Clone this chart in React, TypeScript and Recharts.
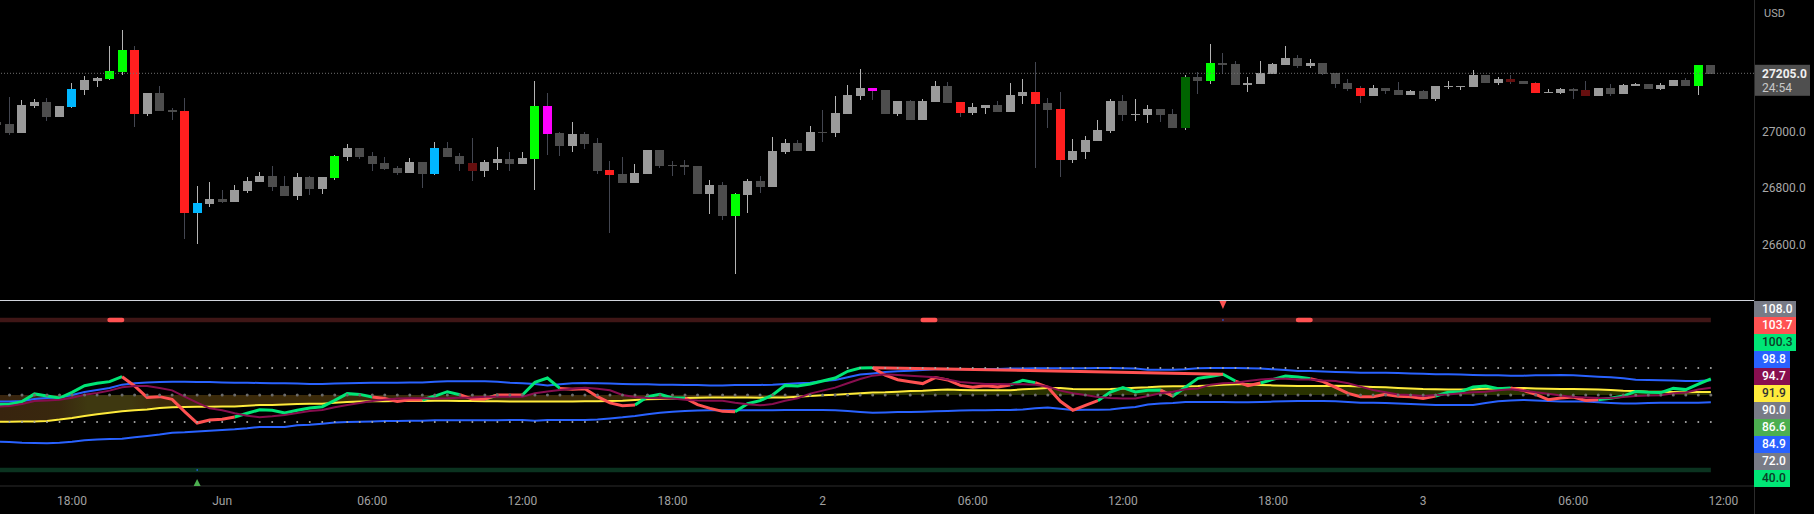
import React from "react";
import {
  ComposedChart,
  Bar,
  Line,
  Area,
  XAxis,
  YAxis,
  ReferenceLine,
} from "recharts";

// 30 minute bars, first entry is the bar cut off by the left edge (index -1)
const candleKinds =
  "DDLLDLBLLGGRLDDRBLDLLLDDLDLGLDDDDLDBDDrLLDLGMDLDDRDLLDDDDLDGLDLLDLDLLLMDLDLLDRLLDLLRDRLLLLDLLDDgDGDDLLLLDLDDDRLDDLDLLLLDLrDRLLDrLDLLDLLDGD".split("");

const opens = [
  27033,
  27026, 26994, 27089, 27104, 27051, 27086, 27146, 27178, 27185, 27210,
  27287, 27061, 27135, 27075, 27072, 26711, 26743, 26761, 26750, 26789,
  26821, 26842, 26807, 26771, 26838, 26796, 26835, 26909, 26941, 26913,
  26888, 26870, 26853, 26891, 26849, 26941, 26913, 26888, 26860, 26888,
  26902, 26884, 26902, 27089, 26994, 26948, 26990, 26959, 26863, 26849,
  26817, 26849, 26934, 26881, 26881, 26877, 26778, 26810, 26701, 26775,
  26824, 26803, 26927, 26959, 26930, 26998, 26994, 27061, 27125, 27153,
  27146, 27061, 27107, 27040, 27104, 27160, 27104, 27065, 27082, 27093,
  27068, 27125, 27139, 27100, 27079, 26899, 26927, 26966, 27001, 27107,
  27058, 27058, 27079, 27061, 27012, 27192, 27178, 27241, 27238, 27164,
  27167, 27202, 27234, 27259, 27231, 27241, 27206, 27171, 27153, 27125,
  27153, 27146, 27128, 27142, 27114, 27157, 27157, 27157, 27199, 27171,
  27185, 27178, 27171, 27135, 27135, 27150, 27146, 27125, 27153, 27132,
  27160, 27167, 27150, 27160, 27181, 27160, 27234,
];

const closes = [
  27023,
  26994, 27093, 27104, 27051, 27089, 27150, 27181, 27188, 27213, 27287,
  27061, 27135, 27072, 27068, 26711, 26747, 26761, 26750, 26793, 26824,
  26842, 26803, 26771, 26838, 26796, 26838, 26913, 26941, 26909, 26884,
  26867, 26853, 26891, 26849, 26941, 26909, 26884, 26860, 26891, 26902,
  26884, 26906, 27089, 26990, 26948, 26990, 26955, 26860, 26846, 26817,
  26853, 26934, 26877, 26877, 26874, 26778, 26810, 26701, 26778, 26824,
  26803, 26930, 26959, 26930, 26998, 26994, 27065, 27128, 27153, 27142,
  27061, 27107, 27040, 27107, 27160, 27100, 27065, 27086, 27093, 27068,
  27128, 27139, 27096, 27075, 26899, 26930, 26969, 27005, 27107, 27058,
  27061, 27079, 27058, 27012, 27192, 27178, 27241, 27234, 27164, 27171,
  27206, 27238, 27259, 27231, 27241, 27202, 27167, 27150, 27125, 27153,
  27142, 27128, 27142, 27114, 27160, 27160, 27160, 27199, 27171, 27185,
  27174, 27167, 27135, 27139, 27150, 27142, 27125, 27153, 27132, 27164,
  27167, 27150, 27164, 27181, 27160, 27234, 27202,
];

const highs = [
  27033,
  27121, 27111, 27114, 27118, 27089, 27171, 27195, 27192, 27301, 27358,
  27301, 27135, 27160, 27082, 27118, 26807, 26821, 26793, 26810, 26838,
  26856, 26877, 26842, 26853, 26842, 26838, 26916, 26955, 26941, 26927,
  26909, 26877, 26906, 26891, 26962, 26962, 26923, 26976, 26899, 26945,
  26927, 26927, 27178, 27135, 26998, 27033, 26998, 26976, 26895, 26909,
  26884, 26934, 26934, 26895, 26899, 26877, 26828, 26821, 26782, 26831,
  26842, 26980, 26973, 26969, 27019, 27075, 27125, 27164, 27220, 27153,
  27146, 27107, 27111, 27114, 27178, 27174, 27104, 27100, 27093, 27107,
  27171, 27185, 27245, 27118, 27139, 26973, 26983, 27040, 27114, 27128,
  27114, 27093, 27079, 27079, 27199, 27210, 27308, 27277, 27248, 27192,
  27248, 27241, 27301, 27270, 27255, 27241, 27206, 27185, 27160, 27164,
  27153, 27174, 27146, 27146, 27160, 27178, 27160, 27217, 27199, 27192,
  27199, 27178, 27174, 27150, 27153, 27153, 27178, 27153, 27167, 27167,
  27171, 27167, 27171, 27181, 27188, 27234, 27234,
];

const lows = [
  27023,
  26987, 26994, 27082, 27036, 27051, 27082, 27128, 27157, 27181, 27199,
  27015, 27054, 27072, 27040, 26619, 26602, 26732, 26747, 26750, 26782,
  26821, 26789, 26771, 26757, 26775, 26778, 26828, 26895, 26902, 26860,
  26863, 26846, 26853, 26800, 26846, 26909, 26860, 26824, 26838, 26863,
  26860, 26884, 26793, 26916, 26913, 26927, 26937, 26849, 26641, 26817,
  26817, 26849, 26870, 26842, 26846, 26778, 26708, 26686, 26496, 26711,
  26782, 26803, 26920, 26930, 26930, 26962, 26980, 27061, 27111, 27111,
  27061, 27054, 27040, 27040, 27104, 27100, 27051, 27058, 27061, 27068,
  27068, 27096, 26870, 27012, 26838, 26888, 26902, 26966, 26994, 27036,
  27036, 27029, 27033, 27012, 27005, 27132, 27167, 27202, 27164, 27139,
  27167, 27202, 27234, 27224, 27224, 27199, 27153, 27142, 27100, 27125,
  27132, 27128, 27128, 27114, 27107, 27150, 27146, 27157, 27171, 27164,
  27167, 27167, 27135, 27135, 27132, 27114, 27125, 27125, 27125, 27132,
  27160, 27150, 27146, 27160, 27160, 27128, 27202,
];

// indicator pane
const fast = [
  83.6,
  83.8, 85.6, 90.7, 89.3, 88.0, 91.8, 96.2, 97.8, 98.9, 102.2,
  96.0, 88.4, 88.9, 87.1, 78.9, 71.3, 73.3, 73.8, 75.3, 77.8,
  80.2, 79.8, 78.0, 79.8, 81.3, 82.2, 86.4, 90.9, 90.4, 88.7,
  87.6, 85.6, 86.9, 86.7, 89.3, 92.2, 90.2, 87.3, 87.3, 90.0,
  90.0, 90.0, 98.4, 101.3, 94.4, 93.8, 94.2, 88.9, 84.7, 82.9,
  83.3, 88.9, 90.4, 88.0, 88.0, 83.6, 81.1, 79.1, 78.9, 84.2,
  86.2, 90.0, 96.4, 96.0, 97.3, 99.3, 101.3, 105.8, 108.0, 108.2,
  103.3, 100.2, 98.9, 97.6, 101.6, 100.0, 96.4, 95.1, 96.2, 95.3,
  96.7, 99.8, 98.2, 95.1, 85.8, 79.8, 83.1, 86.2, 92.0, 94.9,
  92.0, 93.1, 93.3, 89.3, 95.1, 101.1, 102.4, 103.8, 99.3, 96.2,
  98.0, 100.4, 102.7, 102.0, 100.9, 98.9, 95.1, 91.1, 88.9, 88.9,
  90.4, 89.1, 88.9, 87.6, 89.3, 91.8, 92.2, 95.3, 96.0, 94.2,
  94.7, 93.1, 90.4, 86.9, 88.0, 88.7, 86.4, 86.9, 87.8, 89.3,
  92.4, 91.8, 91.6, 94.4, 93.6, 97.3, 100.7,
];

const signal = [
  82.2,
  82.7, 84.0, 86.0, 86.4, 86.9, 88.2, 90.2, 91.3, 92.9, 95.1,
  96.0, 96.0, 94.7, 93.1, 88.9, 84.9, 81.1, 79.8, 77.8, 76.2,
  75.1, 75.8, 76.7, 78.0, 79.3, 80.0, 81.8, 83.3, 84.7, 86.0,
  86.9, 87.6, 87.8, 87.8, 87.6, 87.8, 88.2, 88.4, 88.9, 88.9,
  88.9, 88.9, 91.1, 92.4, 93.3, 94.2, 94.9, 94.2, 93.1, 90.0,
  88.7, 88.0, 87.8, 87.6, 86.9, 86.4, 86.2, 86.2, 84.9, 83.8,
  83.1, 84.0, 86.2, 87.8, 90.9, 92.9, 94.9, 97.8, 100.7, 102.9,
  103.8, 103.3, 102.9, 102.4, 101.8, 100.4, 98.7, 98.0, 97.3, 97.3,
  97.1, 97.1, 96.9, 95.6, 92.9, 91.1, 90.0, 88.7, 88.0, 87.6,
  87.6, 89.3, 91.1, 92.2, 93.8, 94.4, 96.9, 97.8, 98.2, 99.3,
  100.4, 100.9, 100.9, 100.4, 100.4, 99.6, 99.3, 97.8, 95.6, 93.3,
  91.8, 90.4, 90.0, 89.3, 90.0, 90.4, 91.1, 91.8, 92.2, 93.1,
  93.8, 92.9, 91.8, 90.9, 89.6, 88.7, 88.4, 88.0, 87.8, 88.7,
  89.3, 89.6, 89.8, 91.1, 91.6, 93.6, 94.9,
];

const baseline = [
  72.2,
  72.2, 72.4, 72.4, 72.7, 73.6, 74.7, 76.0, 77.1, 78.2, 79.1,
  79.8, 80.4, 81.3, 81.8, 82.0, 82.2, 82.2, 82.4, 82.4, 82.9,
  83.3, 83.3, 83.6, 84.0, 84.2, 84.2, 84.9, 85.3, 85.6, 85.8,
  85.8, 86.0, 86.0, 86.0, 86.2, 86.2, 86.0, 86.0, 85.8, 85.8,
  85.6, 85.6, 85.6, 85.6, 85.6, 85.6, 85.8, 85.8, 86.0, 86.2,
  86.7, 87.1, 87.3, 87.6, 88.0, 88.2, 88.4, 88.4, 88.4, 88.4,
  88.2, 88.4, 88.4, 88.9, 89.3, 89.8, 90.2, 90.7, 91.1, 91.6,
  91.8, 92.2, 92.7, 92.9, 93.3, 93.6, 93.3, 93.1, 93.1, 93.1,
  93.1, 93.8, 94.2, 94.7, 94.7, 94.0, 93.8, 93.8, 94.0, 94.4,
  94.9, 95.1, 95.6, 95.8, 95.8, 96.0, 96.4, 96.9, 97.1, 97.1,
  96.7, 96.4, 96.2, 96.0, 96.0, 96.0, 96.2, 96.0, 95.6, 95.3,
  95.1, 94.7, 94.4, 94.0, 93.8, 93.6, 93.6, 93.8, 94.2, 94.4,
  94.7, 94.7, 94.4, 94.2, 94.0, 94.0, 93.8, 93.6, 93.3, 92.9,
  92.7, 92.2, 92.2, 92.0, 91.8, 92.0, 92.0,
];

const upperBand = [
  85.6,
  85.6, 86.0, 87.3, 88.0, 88.4, 90.0, 92.0, 93.3, 94.7, 96.9,
  97.8, 98.4, 98.7, 98.9, 98.9, 98.7, 98.7, 98.4, 98.2, 98.2,
  98.0, 97.8, 97.8, 97.6, 97.3, 97.3, 97.6, 97.8, 98.0, 98.2,
  98.2, 98.2, 98.4, 98.4, 98.9, 99.1, 99.1, 99.1, 99.1, 98.9,
  98.2, 97.8, 97.3, 96.4, 97.1, 97.8, 98.0, 97.8, 97.6, 97.3,
  97.1, 97.1, 96.9, 96.9, 96.7, 96.7, 96.4, 96.4, 96.7, 96.7,
  96.7, 96.9, 97.3, 97.8, 98.2, 99.3, 100.0, 101.8, 103.6, 104.4,
  105.3, 105.8, 106.2, 106.7, 107.1, 107.1, 107.1, 107.1, 107.3, 107.3,
  107.6, 107.6, 107.8, 107.8, 107.8, 107.8, 107.8, 108.0, 108.0, 107.8,
  107.6, 106.9, 106.9, 106.9, 107.1, 107.8, 108.0, 108.0, 108.0, 107.8,
  107.6, 107.1, 106.7, 106.0, 106.0, 105.6, 105.3, 105.1, 104.9, 104.9,
  104.9, 104.7, 104.4, 104.2, 103.8, 103.8, 103.6, 103.3, 103.1, 103.1,
  102.9, 102.9, 103.1, 103.1, 103.3, 103.1, 102.7, 102.2, 101.8, 101.1,
  100.2, 100.0, 99.8, 99.6, 99.3, 99.3, 99.8,
];

const lowerBand = [
  58.9,
  58.7, 58.2, 58.0, 57.8, 58.2, 58.9, 59.8, 60.4, 60.7, 60.9,
  61.8, 62.7, 63.6, 64.9, 65.1, 65.6, 66.2, 66.7, 67.1, 67.8,
  68.7, 68.7, 68.7, 69.8, 70.2, 70.9, 71.6, 72.0, 72.2, 72.4,
  72.7, 72.7, 72.9, 72.9, 73.1, 73.1, 73.1, 73.1, 73.1, 73.1,
  73.3, 73.3, 72.9, 73.3, 73.3, 73.3, 73.3, 73.6, 74.4, 75.1,
  76.0, 77.1, 78.2, 78.9, 79.3, 79.6, 79.8, 79.8, 79.8, 79.8,
  79.8, 79.8, 80.0, 80.0, 80.0, 80.0, 79.8, 79.3, 78.7, 78.2,
  78.4, 78.7, 78.7, 78.9, 79.1, 79.3, 79.6, 79.8, 79.8, 80.0,
  80.0, 80.4, 81.1, 81.6, 80.9, 80.0, 80.2, 80.2, 80.4, 81.3,
  82.0, 83.6, 84.4, 84.7, 85.3, 85.3, 85.3, 85.3, 85.1, 85.1,
  85.3, 85.6, 85.8, 86.0, 86.0, 86.0, 85.8, 85.3, 84.9, 84.9,
  84.7, 84.4, 84.0, 83.6, 83.3, 83.3, 83.3, 83.3, 84.7, 85.8,
  86.4, 86.7, 86.4, 86.0, 85.6, 85.6, 85.6, 85.1, 84.7, 84.4,
  84.4, 84.7, 84.9, 84.9, 84.9, 84.9, 85.1,
];

const greenSpans = [[-1, 9], [18, 29], [33, 36], [38, 39], [41, 44], [50, 54], [58, 69], [80, 82], [87, 92], [93, 98], [100, 104], [114, 120], [127, 136]];
const redSpans = [[9, 18], [29, 33], [36, 38], [39, 41], [44, 50], [54, 58], [69, 80], [82, 87], [92, 93], [98, 100], [104, 114], [120, 127]];
const trailBars = [69, 97];
const trailValues = [108.2, 103.9];
const alertSpans = [[8, 9], [73, 74], [103, 104]];
const sellBar = 97;
const buyBar = 15;

const levelHigh = 108;
const levelMid = 90;
const levelLow = 72;
const ceiling = 140;
const floor = 40;

const lastPrice = 27205;
const countdown = "24:54";
const priceTicks = [27205, 27000, 26800, 26600];
const timeTicks = [5, 17, 29, 41, 53, 65, 77, 89, 101, 113, 125, 137];
const timeLabels = ["18:00", "Jun", "06:00", "12:00", "18:00", "2", "06:00", "12:00", "18:00", "3", "06:00", "12:00"];
const tagLabels = ["108.0", "103.7", "100.3", "98.8", "94.7", "91.9", "90.0", "86.6", "84.9", "72.0", "40.0"];

const inSpans = (spans: number[][], i: number) => spans.some(([a, b]) => i >= a && i <= b);

const data = opens.map((open, n) => {
  const i = n - 1;
  const base = baseline[n];
  return {
    i,
    kind: candleKinds[n],
    open,
    close: closes[n],
    high: highs[n],
    low: lows[n],
    baseline: base,
    signal: signal[n],
    upperBand: upperBand[n],
    lowerBand: lowerBand[n],
    fastGreen: inSpans(greenSpans, i) ? fast[n] : null,
    fastRed: inSpans(redSpans, i) ? fast[n] : null,
    trail: trailBars.includes(i) ? trailValues[trailBars.indexOf(i)] : null,
    below: base < levelMid ? [base, levelMid] : [levelMid, levelMid],
    above: base > levelMid ? [levelMid, base] : [levelMid, levelMid],
    levelHigh,
    levelMid,
    levelLow,
    ceiling,
    floor,
    alert: inSpans(alertSpans, i) ? ceiling : null,
    sell: i === sellBar ? 150.7 : null,
    buy: i === buyBar ? 31.3 : null,
    hit: i === sellBar ? ceiling : i === buyBar ? floor : null,
  };
});

const bodyColors: Record<string, string> = {
  L: "#9a9a9a",
  D: "#4d4d4d",
  R: "#ff1f1f",
  G: "#00ff00",
  B: "#00b7ff",
  M: "#ff00ff",
  r: "#660f0f",
  g: "#006400",
};

const tagStyles = [
  { background: "#787b86", color: "#fff", width: 42 },
  { background: "#ff5252", color: "#fff", width: 42 },
  { background: "#00e676", color: "#0c3b26", width: 42 },
  { background: "#2962ff", color: "#fff", width: 36 },
  { background: "#880e4f", color: "#fff", width: 36 },
  { background: "#ffeb3b", color: "#333", width: 36 },
  { background: "#787b86", color: "#fff", width: 36 },
  { background: "#4caf50", color: "#fff", width: 36 },
  { background: "#2962ff", color: "#fff", width: 36 },
  { background: "#787b86", color: "#fff", width: 36 },
  { background: "#00e676", color: "#0c3b26", width: 36 },
];

const fontFamily = "Roboto, sans-serif";
const xDomain = [-0.759, 139.45];

function Candle(props: any) {
  const { x, y, height, payload } = props;
  const { open, close, high, low, kind } = payload;
  const span = high - low;
  const perUnit = span > 0 ? height / span : 0;
  // snap to whole pixels, the source chart sits slightly left of the raw scale
  const left = Math.round(x - 0.3);
  const top = Math.round(y + (high - Math.max(open, close)) * perUnit);
  const bottom = Math.round(y + (high - Math.min(open, close)) * perUnit);
  const wick = close >= open ? "#b4b4b4" : "#434651";
  return (
    <g>
      <rect x={left + 4} y={Math.round(y)} width={1} height={Math.round(height)} fill={wick} />
      <rect x={left} y={top} width={9} height={Math.max(bottom - top, 1)} fill={bodyColors[kind]} />
    </g>
  );
}

function PriceTick(props: any) {
  const { x, y, payload } = props;
  if (payload.value === lastPrice) {
    return (
      <g>
        <rect x={x - 8} y={y - 8.5} width={56} height={31} fill="#4f4f4f" />
        <text x={x} y={y + 4.5} fontSize={12} fontWeight={700} fill="#f0f0f0" fontFamily={fontFamily}>
          {payload.value.toFixed(1)}
        </text>
        <text x={x} y={y + 19} fontSize={12} fill="#c8c8c8" fontFamily={fontFamily}>
          {countdown}
        </text>
      </g>
    );
  }
  return (
    <text x={x} y={y + 4.5} fontSize={12} fill="#a8a8a8" fontFamily={fontFamily}>
      {payload.value.toFixed(1)}
    </text>
  );
}

function smallDot(color: string, r: number) {
  return (p: any) =>
    p.cy == null ? <g key={p.key} /> : <circle key={p.key} cx={p.cx} cy={p.cy} r={r} fill={color} />;
}

function SellMark(p: any) {
  if (p.value == null || p.cy == null) return <g key={p.key} />;
  return <polygon key={p.key} points={`${p.cx - 4},${p.cy - 4} ${p.cx + 4},${p.cy - 4} ${p.cx},${p.cy + 5}`} fill="#ff5252" />;
}

function BuyMark(p: any) {
  if (p.value == null || p.cy == null) return <g key={p.key} />;
  return <polygon key={p.key} points={`${p.cx - 3.5},${p.cy + 3} ${p.cx + 3.5},${p.cy + 3} ${p.cx},${p.cy - 4}`} fill="#4caf50" />;
}

function HitMark(p: any) {
  if (p.value == null || p.cy == null) return <g key={p.key} />;
  return <rect key={p.key} x={p.cx - 0.5} y={p.cy - 1} width={1} height={2} fill="#2962ff" />;
}

export default function App() {
  return (
    <div style={{ position: "absolute", left: 0, top: 0, width: 1814, height: 514, background: "#000", overflow: "hidden", fontFamily }}>
      <ComposedChart width={1814} height={300} data={data} margin={{ top: 0, right: 0, bottom: 0, left: 0 }}>
        <XAxis dataKey="i" type="number" domain={xDomain} allowDataOverflow hide />
        <YAxis
          orientation="right"
          width={60}
          domain={[26404, 27464]}
          ticks={priceTicks}
          interval={0}
          allowDataOverflow
          axisLine={false}
          tickLine={false}
          tick={<PriceTick />}
        />
        <ReferenceLine y={lastPrice} stroke="#707070" strokeDasharray="1 2" />
        <Bar dataKey={(d: any) => [d.low, d.high]} barSize={9} shape={<Candle />} isAnimationActive={false} />
      </ComposedChart>

      <div style={{ position: "absolute", left: 0, top: 300 }}>
        <ComposedChart width={1814} height={214} data={data} margin={{ top: 0, right: 60, bottom: 0, left: 0 }}>
          <defs>
            <linearGradient id="belowFill" gradientUnits="userSpaceOnUse" x1={0} y1={0} x2={1754} y2={0}>
              <stop offset="0" stopColor="#38240e" />
              <stop offset="0.034" stopColor="#39280e" />
              <stop offset="0.05" stopColor="#3e3810" />
              <stop offset="0.075" stopColor="#3e3810" />
              <stop offset="0.09" stopColor="#3b2a0a" />
              <stop offset="1" stopColor="#3b2a06" />
            </linearGradient>
          </defs>
          <XAxis
            dataKey="i"
            type="number"
            domain={xDomain}
            allowDataOverflow
            height={28}
            ticks={timeTicks}
            interval={0}
            tickFormatter={(v: number) => timeLabels[timeTicks.indexOf(v)]}
            tick={{ fontSize: 12, fill: "#a0a0a0", fontFamily }}
            axisLine={{ stroke: "#2c2c2c" }}
            tickLine={false}
            tickMargin={4}
          />
          <YAxis hide domain={[29.33, 153.33]} allowDataOverflow />
          <Line dataKey="ceiling" stroke="#3f1616" strokeWidth={4.5} dot={false} isAnimationActive={false} />
          <Line dataKey="floor" stroke="#0b3320" strokeWidth={4.5} dot={false} isAnimationActive={false} />
          <Line dataKey="alert" stroke="#ff5252" strokeWidth={4.5} strokeLinecap="round" dot={false} isAnimationActive={false} />
          <Line dataKey="hit" stroke="none" dot={HitMark} isAnimationActive={false} />
          <Area dataKey="below" stroke="none" fill="url(#belowFill)" fillOpacity={1} dot={false} isAnimationActive={false} />
          <Area dataKey="above" stroke="none" fill="#2a3300" fillOpacity={1} dot={false} isAnimationActive={false} />
          <Line dataKey="levelHigh" stroke="none" dot={smallDot("#a8a8a8", 1)} isAnimationActive={false} />
          <Line dataKey="levelMid" stroke="none" dot={smallDot("#6e6e6e", 1.5)} isAnimationActive={false} />
          <Line dataKey="levelLow" stroke="none" dot={smallDot("#a8a8a8", 1)} isAnimationActive={false} />
          <Line dataKey="baseline" stroke="#ffeb3b" strokeWidth={2} dot={false} isAnimationActive={false} />
          <Line dataKey="upperBand" stroke="#2962ff" strokeWidth={2} dot={false} isAnimationActive={false} />
          <Line dataKey="lowerBand" stroke="#2962ff" strokeWidth={2} dot={false} isAnimationActive={false} />
          <Line dataKey="fastGreen" stroke="#00e676" strokeWidth={3} dot={false} isAnimationActive={false} />
          <Line dataKey="fastRed" stroke="#ff5252" strokeWidth={3} dot={false} isAnimationActive={false} />
          <Line dataKey="trail" stroke="#ff5252" strokeWidth={3} connectNulls dot={false} isAnimationActive={false} />
          <Line dataKey="signal" stroke="#880e4f" strokeWidth={2} dot={false} isAnimationActive={false} />
          <Line dataKey="sell" stroke="none" dot={SellMark} isAnimationActive={false} />
          <Line dataKey="buy" stroke="none" dot={BuyMark} isAnimationActive={false} />
        </ComposedChart>
      </div>

      <div style={{ position: "absolute", left: 0, top: 300, width: 1754, height: 1, background: "#d1d4dc" }} />
      <div style={{ position: "absolute", left: 1754, top: 0, width: 1, height: 514, background: "#2c2c2c" }} />
      <div style={{ position: "absolute", left: 1764, top: 6, fontSize: 11, lineHeight: "15px", color: "#a8a8a8" }}>USD</div>

      {tagLabels.map((label, n) => (
        <div
          key={n}
          style={{
            position: "absolute",
            left: 1754,
            top: 300.5 + n * 16.9,
            height: 17,
            lineHeight: "17px",
            fontSize: 12,
            fontWeight: 500,
            paddingLeft: 8,
            boxSizing: "border-box",
            ...tagStyles[n],
          }}
        >
          {label}
        </div>
      ))}
    </div>
  );
}
